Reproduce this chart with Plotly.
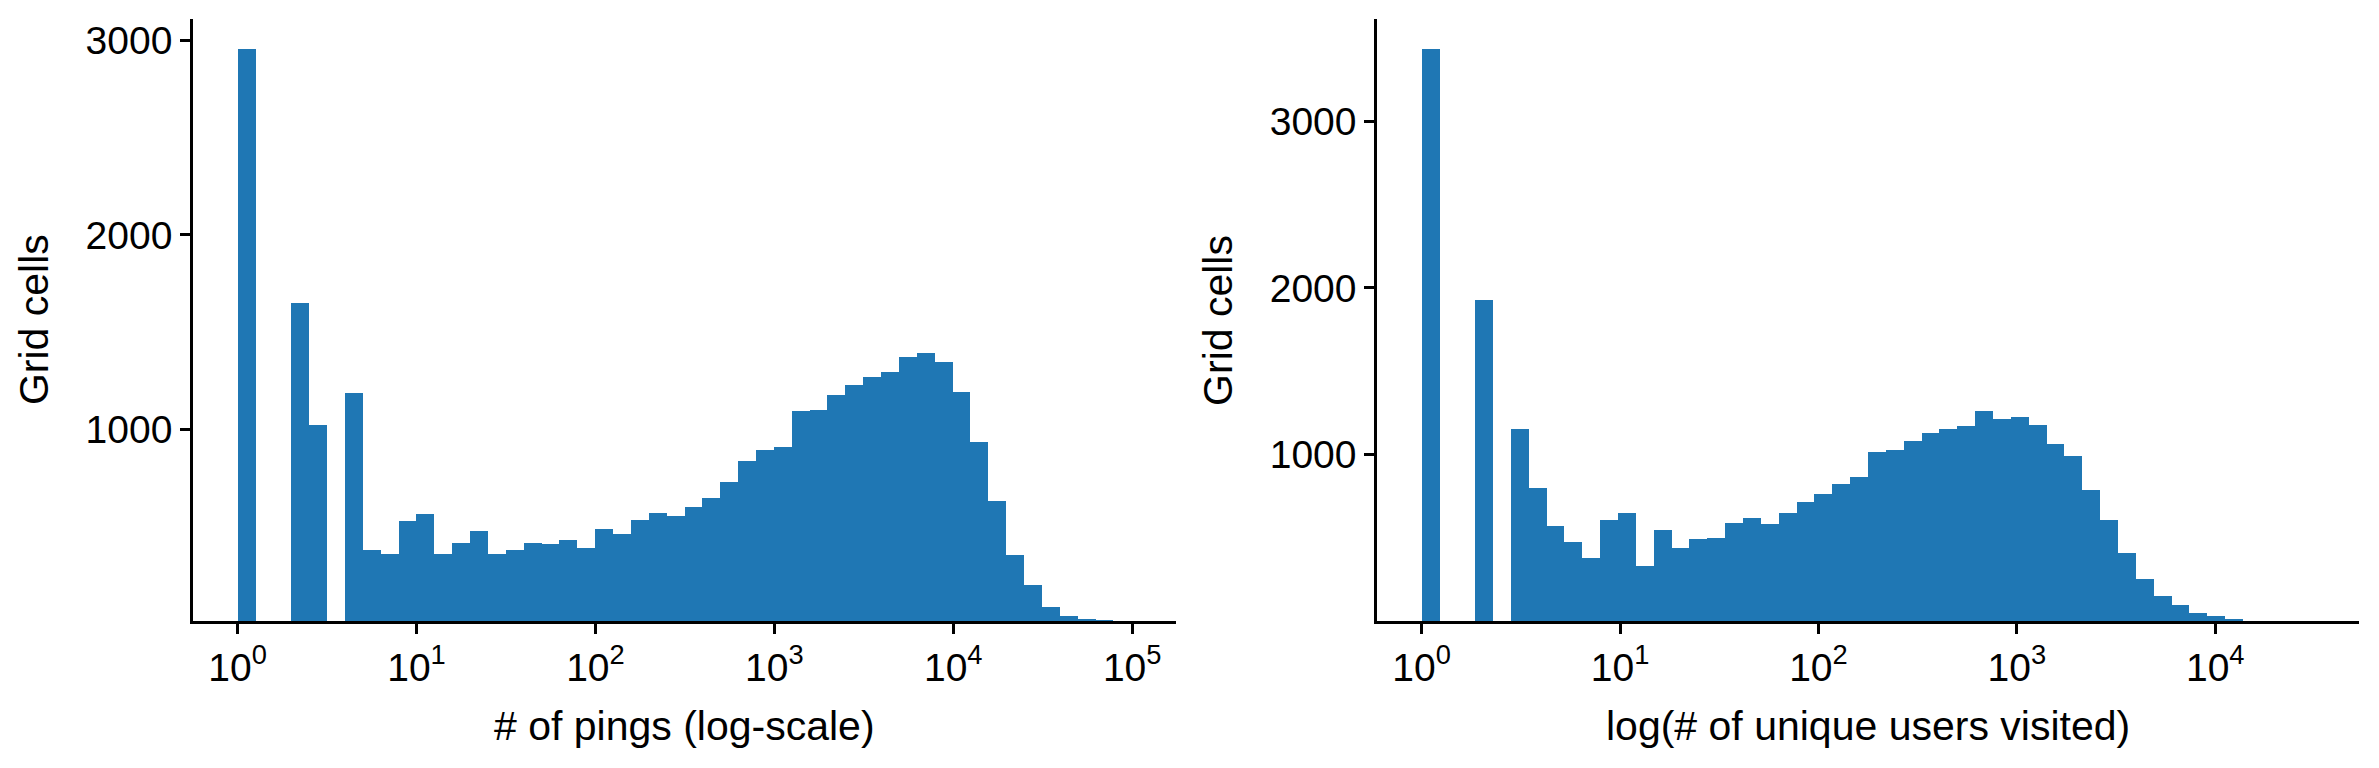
import numpy as np
import plotly.graph_objects as go

# histogram counts, 50 log-spaced bins each
ping_counts = [2956, 0, 0, 1648, 1020, 0, 1184, 376, 355, 525,
               561, 355, 412, 474, 355, 376, 412, 407, 427, 386,
               484, 458, 530, 566, 551, 597, 642, 726, 834, 891,
               906, 1092, 1097, 1174, 1226, 1267, 1293, 1370, 1390, 1344,
               1190, 932, 628, 350, 196, 84, 36, 21, 15, 0]
user_counts = [3433, 0, 0, 1926, 0, 1152, 798, 570, 474, 378,
               606, 648, 330, 546, 438, 492, 498, 588, 618, 582,
               648, 714, 762, 822, 864, 1014, 1026, 1080, 1128, 1152,
               1170, 1260, 1212, 1224, 1176, 1062, 990, 786, 606, 408,
               252, 150, 95, 47, 29, 8, 0, 0, 0, 0]

# log10 of the largest value in each sample (bins span 10^0 .. max)
ping_log_max = 4.995
user_log_max = 4.5
n_bins = 50

ping_decades = [0, 1, 2, 3, 4, 5]
user_decades = [0, 1, 2, 3, 4]
y_ticks = [1000, 2000, 3000]

BLUE = "#1f77b4"
FONT = "Liberation Sans, Arial, sans-serif"


def bins(log_max):
    edges = np.linspace(0, log_max, n_bins + 1)
    return (edges[:-1] + edges[1:]) / 2, edges[1] - edges[0]


fig = go.Figure()

px_c, px_w = bins(ping_log_max)
fig.add_trace(go.Bar(x=px_c, y=ping_counts, width=px_w, marker=dict(color=BLUE, line=dict(width=0)),
                     xaxis="x", yaxis="y", showlegend=False))
ux_c, ux_w = bins(user_log_max)
fig.add_trace(go.Bar(x=ux_c, y=user_counts, width=ux_w, marker=dict(color=BLUE, line=dict(width=0)),
                     xaxis="x2", yaxis="y2", showlegend=False))

axis_style = dict(showline=True, linecolor="black", linewidth=2.5, ticks="outside", ticklen=10,
                  tickwidth=2.5, tickcolor="black", showgrid=False, zeroline=False, automargin=False,
                  tickfont=dict(family=FONT, size=39, color="black"))

# page body keeps its default 8px margin, so the figure is 8px smaller than the window
pad = 0.05
fig.update_layout(
    width=2371, height=760,
    margin=dict(l=0, r=0, t=0, b=0),
    plot_bgcolor="white", paper_bgcolor="white",
    bargap=0,
    xaxis=dict(domain=[0.0780, 0.4926], anchor="y",
               range=[-pad * ping_log_max, ping_log_max * (1 + pad)],
               tickvals=ping_decades, ticktext=[f"10<sup>{d}</sup>" for d in ping_decades], **axis_style),
    yaxis=dict(domain=[0.1934, 0.9851], anchor="x", range=[12, 3110], tickvals=y_ticks,
               ticktext=[str(t) for t in y_ticks], **axis_style),
    xaxis2=dict(domain=[0.5774, 0.9916], anchor="y2",
                range=[-pad * user_log_max, user_log_max * (1 + pad)],
                tickvals=user_decades, ticktext=[f"10<sup>{d}</sup>" for d in user_decades], **axis_style),
    yaxis2=dict(domain=[0.1934, 0.9851], anchor="x2", range=[0, 3612], tickvals=y_ticks,
                ticktext=[str(t) for t in y_ticks], **axis_style),
)

title_font = dict(family=FONT, size=41, color="black")
fig.add_annotation(text="# of pings (log-scale)", xref="paper", yref="paper", x=0.2853, y=0.055,
                   showarrow=False, font=title_font, xanchor="center", yanchor="middle")
fig.add_annotation(text="log(# of unique users visited)", xref="paper", yref="paper", x=0.7845, y=0.055,
                   showarrow=False, font=title_font, xanchor="center", yanchor="middle")
fig.add_annotation(text="Grid cells", xref="paper", yref="paper", x=0.0110, y=0.5895, textangle=-90,
                   showarrow=False, font=title_font, xanchor="center", yanchor="middle")
fig.add_annotation(text="Grid cells", xref="paper", yref="paper", x=0.5103, y=0.5895, textangle=-90,
                   showarrow=False, font=title_font, xanchor="center", yanchor="middle")

fig.write_html("out.html")
